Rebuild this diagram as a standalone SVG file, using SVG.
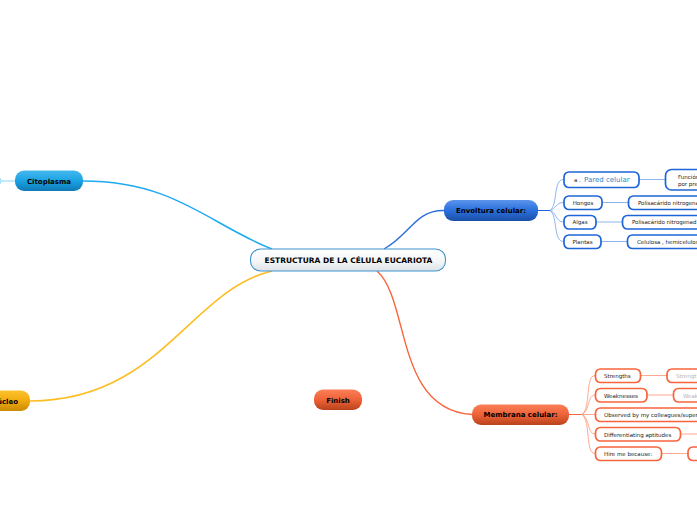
<svg xmlns="http://www.w3.org/2000/svg" width="697" height="520" viewBox="0 0 697 520">
<style>
text{font-family:"DejaVu Sans",Verdana,sans-serif;fill:#111;text-rendering:geometricPrecision}
.main{font-size:7px;font-weight:bold;text-anchor:middle;fill:#000}
.sub{font-size:5.500px;fill:#222}
.c{text-anchor:middle}
.box{fill:#fff;stroke-width:1.7}
.b{stroke:#1e66d8}.o{stroke:#f8643c}
.lb{fill:none;stroke:#8db4ee;stroke-width:1}
.lo{fill:none;stroke:#ffa98e;stroke-width:1}
</style>
<defs>
<linearGradient id="gc" x1="0" y1="0" x2="0" y2="1"><stop offset="0" stop-color="#ffffff"/><stop offset=".55" stop-color="#f4f6f7"/><stop offset="1" stop-color="#dfe3e5"/></linearGradient>
<linearGradient id="gb" x1="0" y1="0" x2="0" y2="1"><stop offset="0" stop-color="#5b94ec"/><stop offset=".5" stop-color="#2a6fdc"/><stop offset="1" stop-color="#1b4fa8"/></linearGradient>
<linearGradient id="gt" x1="0" y1="0" x2="0" y2="1"><stop offset="0" stop-color="#45b8ee"/><stop offset=".5" stop-color="#1ba3e3"/><stop offset="1" stop-color="#1079b5"/></linearGradient>
<linearGradient id="go" x1="0" y1="0" x2="0" y2="1"><stop offset="0" stop-color="#fb7f58"/><stop offset=".5" stop-color="#ee6238"/><stop offset="1" stop-color="#b9431c"/></linearGradient>
<linearGradient id="gy" x1="0" y1="0" x2="0" y2="1"><stop offset="0" stop-color="#fcc22e"/><stop offset=".5" stop-color="#f1ac10"/><stop offset="1" stop-color="#c98a05"/></linearGradient>
</defs>
<g id="connectors">
<path d="M272 249C210 225 175 181 83 181" fill="none" stroke="#1eaaf0" stroke-width="1.5"/>
<path d="M15 181H1" fill="none" stroke="#9adcf8" stroke-width="1.2"/>
<path d="M272 271C190 290 160 401 30 401" fill="none" stroke="#fdbd22" stroke-width="1.6"/>
<path d="M384 249C410 235 415 210 444 210.500" fill="none" stroke="#2c6fdc" stroke-width="1.4"/>
<path d="M377 271C410 300 395 410 472 414.500" fill="none" stroke="#f8643c" stroke-width="1.4"/>
<path d="M538 210.500H550" fill="none" stroke="#1e66d8" stroke-width="1"/>
<path d="M569 414.500H582" fill="none" stroke="#f8643c" stroke-width="1"/>
<path class="lb" d="M550 210.500C558 205 553 179.500 563.500 179.500M550 210.500C556 209 556 202.500 563.500 202.500M550 210.500C556 212 556 222 563.500 222M550 210.500C558 216 553 241.500 563.500 241.500"/>
<path class="lb" d="M639 179.500H665M602 202.500H628M596 222H622M601 241.500H627"/>
<path class="lo" d="M582 414.500C591 408 585 375.500 595 375.500M582 414.500C590 411 587 395 595 395M582 414.500H595M582 414.500C590 418 587 434 595 434M582 414.500C591 421 585 453.500 595 453.500"/>
<path class="lo" d="M640 375.500H667M647 395H673M680 434H697M661 453.500H688"/>
</g>
<g id="citoplasma-child"><rect x="-30" y="177" width="31" height="8" rx="4" fill="#fff" stroke="#9adcf8" stroke-width="1"/></g>
<g id="central"><rect x="250.500" y="249" width="195" height="22" rx="10" fill="url(#gc)" stroke="#3c93cf" stroke-width="1.100"/><text class="main" x="348.500" y="263" style="font-size:7.500px">ESTRUCTURA DE LA CÉLULA EUCARIOTA</text></g>
<g id="citoplasma"><rect x="15" y="170.500" width="68" height="20.500" rx="9" fill="url(#gt)"/><text class="main" x="49" y="183.500">Citoplasma</text></g>
<g id="nucleo"><rect x="-40" y="390.500" width="70" height="20.500" rx="9" fill="url(#gy)"/><text class="main" x="18" y="403.500" style="text-anchor:end">Núcleo</text></g>
<g id="finish"><rect x="314" y="389.500" width="48" height="20.500" rx="9" fill="url(#go)"/><text class="main" x="338" y="402.500">Finish</text></g>
<g id="envoltura"><rect x="444" y="200" width="94" height="21" rx="9" fill="url(#gb)"/><text class="main" x="491" y="213">Envoltura celular:</text></g>
<g id="membrana"><rect x="472" y="404.500" width="97" height="20.500" rx="9" fill="url(#go)"/><text class="main" x="520.500" y="417">Membrana celular:</text></g>
<g id="pared"><rect class="box b" x="564" y="172" width="75" height="15.500" rx="5"/><text x="574" y="182" class="sub">a .</text><text x="584" y="182" style="font-size:7px;fill:#1f86c8">Pared celular</text></g>
<g id="funcion"><rect class="box b" x="665.500" y="169.500" width="50" height="20.500" rx="6"/><text class="sub" x="678" y="179">Función</text><text class="sub" x="678" y="186">por pre</text></g>
<g id="hongos"><rect class="box b" x="564" y="196" width="38" height="13.500" rx="5"/><text class="sub c" x="583" y="205">Hongos</text></g>
<g id="hongos-d"><rect class="box b" x="628.500" y="196" width="90" height="13.500" rx="5"/><text class="sub" x="638" y="205">Polisacárido nitrogena</text></g>
<g id="algas"><rect class="box b" x="564" y="215.500" width="32" height="13.500" rx="5"/><text class="sub c" x="580" y="224">Algas</text></g>
<g id="algas-d"><rect class="box b" x="622.500" y="215.500" width="96" height="13.500" rx="5"/><text class="sub" x="632" y="224">Polisacárido nitrogenad</text></g>
<g id="plantas"><rect class="box b" x="564" y="235" width="37" height="13.500" rx="5"/><text class="sub c" x="582.500" y="244">Plantas</text></g>
<g id="plantas-d"><rect class="box b" x="627.500" y="235" width="90" height="13.500" rx="5"/><text class="sub" x="637" y="244">Celulosa , hemicelulos</text></g>
<g id="strengths"><rect class="box o" x="595.500" y="369" width="45" height="13.500" rx="5"/><text class="sub" x="604" y="378">Strengths</text></g>
<g id="strengths-d"><rect class="box o" x="667" y="369" width="50" height="13.500" rx="5"/><text class="sub" x="676" y="378" style="fill:#b5b5b5">Strengt</text></g>
<g id="weaknesses"><rect class="box o" x="595.500" y="388.500" width="51.500" height="13.500" rx="5"/><text class="sub" x="604" y="397.500">Weaknesses</text></g>
<g id="weaknesses-d"><rect class="box o" x="673.500" y="388.500" width="50" height="13.500" rx="5"/><text class="sub" x="683" y="397.500" style="fill:#b5b5b5">Weak</text></g>
<g id="observed"><rect class="box o" x="595.500" y="408" width="130" height="13.500" rx="5"/><text class="sub" x="604" y="417">Observed by my colleagues/super</text></g>
<g id="differentiating"><rect class="box o" x="595.500" y="427.500" width="85" height="13.500" rx="5"/><text class="sub" x="604" y="436.500">Differentiating aptitudes</text></g>
<g id="hire"><rect class="box o" x="595.500" y="447" width="66" height="13.500" rx="5"/><text class="sub" x="604" y="456">Hire me because:</text></g>
<g id="hire-d"><rect class="box o" x="688" y="447" width="40" height="13.500" rx="5"/></g>
</svg>
